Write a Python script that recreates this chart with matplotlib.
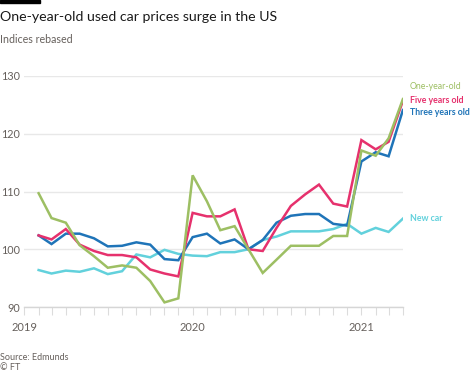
import numpy as np
import pandas as pd
import matplotlib
matplotlib.use('Agg')
import matplotlib.pyplot as plt
import matplotlib.dates as mdates
from matplotlib.patches import Rectangle

plt.rcParams['font.family'] = ['Lato', 'DejaVu Sans']

# monthly index values, Feb 2019 - Apr 2021
months = pd.date_range('2019-02-01', '2021-04-01', freq='MS')
one_year_old = [109.7, 105.4, 104.6, 100.7, 98.8, 96.8, 97.2, 96.8, 94.5, 90.8, 91.5,
                112.8, 108.3, 103.3, 104.0, 100.0, 95.9, 98.2, 100.6, 100.6, 100.6,
                102.3, 102.3, 117.1, 116.2, 119.2, 126.0]
five_years_old = [102.4, 101.7, 103.5, 100.8, 99.7, 99.0, 99.0, 98.6, 96.5, 95.8, 95.3,
                  106.3, 105.7, 105.7, 106.9, 100.0, 99.7, 103.7, 107.5, 109.5, 111.2,
                  107.9, 107.4, 118.9, 117.3, 118.6, 125.7]
three_years_old = [102.4, 100.9, 102.7, 102.7, 101.9, 100.5, 100.6, 101.2, 100.8, 98.3, 98.1,
                   102.1, 102.7, 101.0, 101.7, 100.0, 101.6, 104.6, 105.8, 106.1, 106.1,
                   104.4, 104.1, 115.2, 116.8, 116.1, 124.1]
new_car = [96.4, 95.8, 96.3, 96.1, 96.7, 95.7, 96.2, 99.1, 98.6, 99.9, 99.2,
           98.9, 98.8, 99.5, 99.5, 100.0, 101.6, 102.2, 103.1, 103.1, 103.1,
           103.5, 104.4, 102.7, 103.7, 103.0, 105.3]

series = [
    ('New car', new_car, '#62d1dc', 0),
    ('Three years old', three_years_old, '#1f74b8', -2),
    ('Five years old', five_years_old, '#e6316d', 0),
    ('One-year-old', one_year_old, '#9dbf63', 9),
]

fig = plt.figure(figsize=(4.74, 3.72), dpi=100)
ax = fig.add_axes([0.0513, 0.1747, 0.7987, 0.621])

for name, vals, col, dy in series:
    ax.plot(months, vals, color=col, lw=1.8, solid_joinstyle='miter')
    weight = 'normal' if name == 'One-year-old' else 'bold'
    ax.annotate(name, xy=(months[-1], vals[-1]), xytext=(5, dy),
                textcoords='offset points', color=col, fontsize=6.3,
                va='center', ha='left', fontweight=weight, annotation_clip=False)

ax.set_xlim(pd.Timestamp('2019-01-01'), pd.Timestamp('2021-04-01'))
ax.set_ylim(90, 130)
ax.set_yticks([90, 100, 110, 120, 130])
ax.yaxis.grid(True, color='#e8e8e8', lw=1)
ax.set_axisbelow(True)

ax.xaxis.set_major_locator(mdates.YearLocator())
ax.xaxis.set_major_formatter(mdates.DateFormatter('%Y'))
ax.xaxis.set_minor_locator(mdates.MonthLocator())
ax.tick_params(axis='x', which='both', direction='out', length=6, width=0.8,
               color='#dcdcdc', labelsize=8, labelcolor='#66605c', pad=5)
ax.tick_params(axis='y', length=0, labelsize=7.8, labelcolor='#66605c', pad=3)

for s in ['top', 'right', 'left']:
    ax.spines[s].set_visible(False)
ax.spines['bottom'].set_color('#d6d6d6')
ax.spines['bottom'].set_linewidth(1)

fig.patches.append(Rectangle((0, 0.992), 0.085, 0.008, transform=fig.transFigure,
                             color='black'))
fig.text(0.0, 0.955, 'One-year-old used car prices surge in the US', fontsize=10.2,
         color='#1a1a1a', va='center', ha='left')
fig.text(0.0, 0.893, 'Indices rebased', fontsize=7.7, color='#66605c',
         va='center', ha='left')
fig.text(0.0, 0.038, 'Source: Edmunds', fontsize=6.5, color='#66605c',
         va='center', ha='left')
fig.text(0.0, 0.011, '\u00a9 FT', fontsize=6.5, color='#66605c',
         va='center', ha='left')

fig.savefig('out.png', dpi=100, facecolor='white')
